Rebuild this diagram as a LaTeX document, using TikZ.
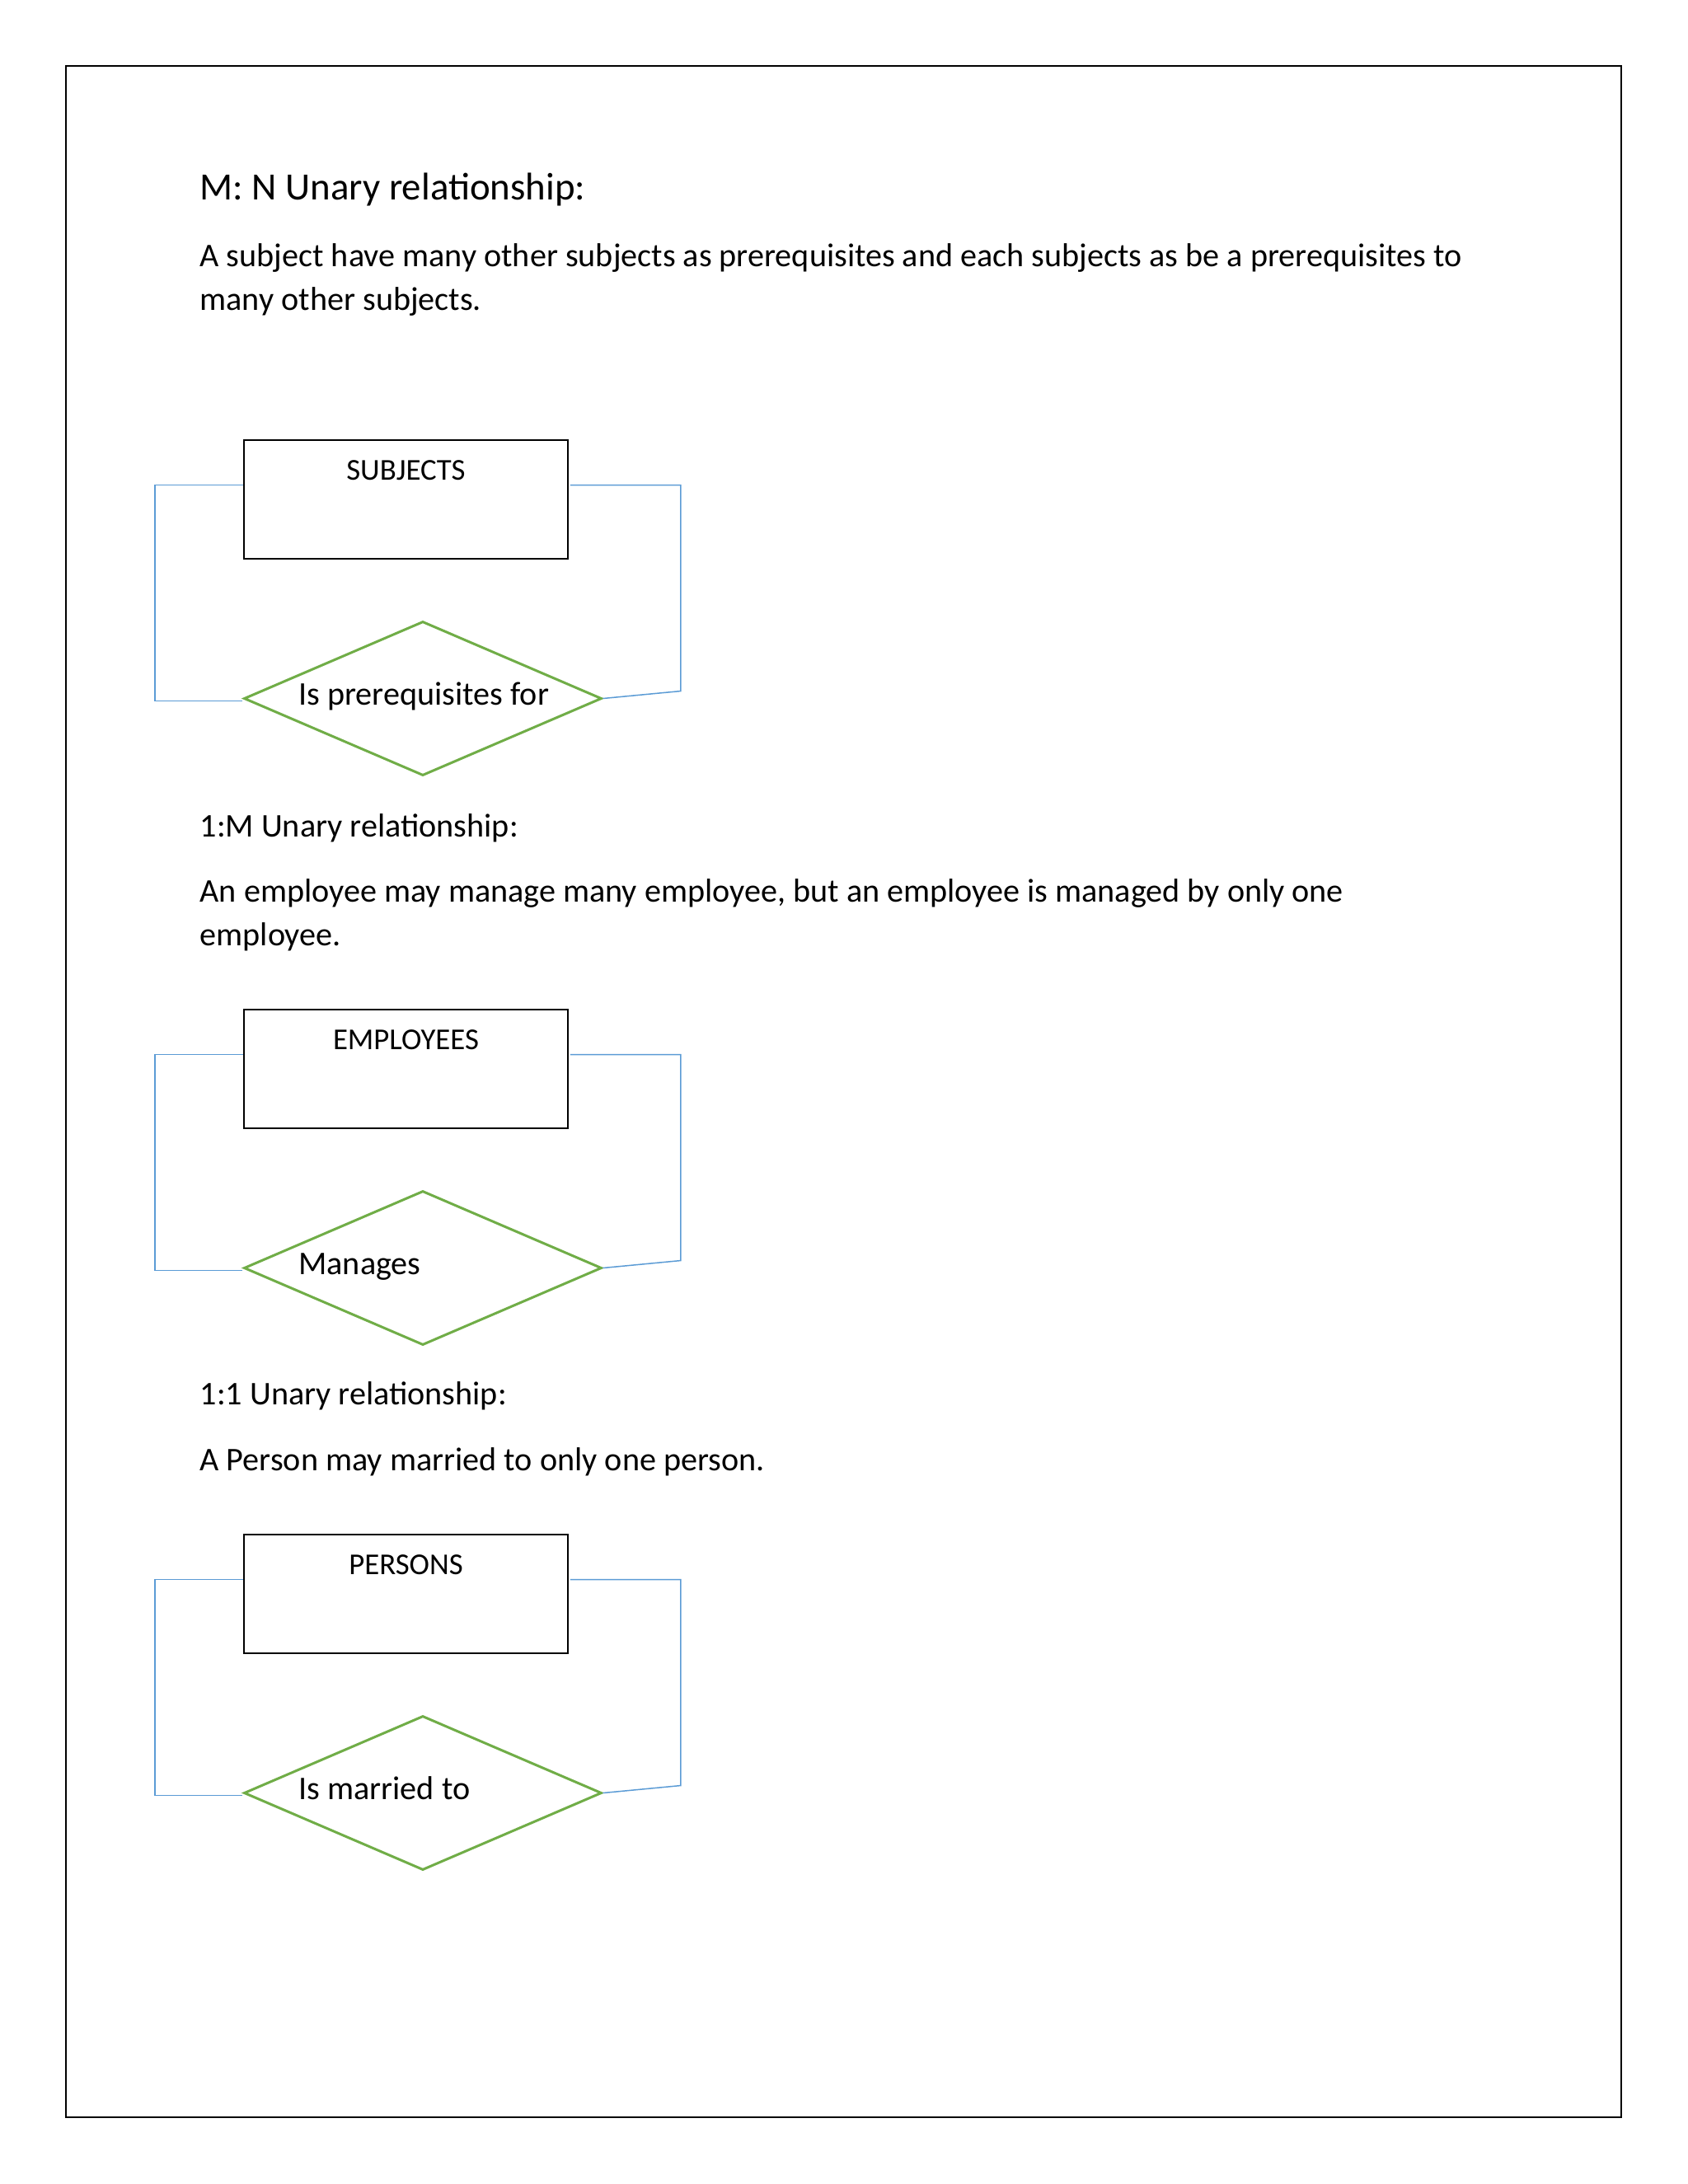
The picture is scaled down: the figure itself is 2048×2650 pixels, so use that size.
\documentclass[tikz,border=0pt]{standalone}
\usepackage{fontspec}
\setmainfont{Carlito}
\usepackage{tikz}
\usetikzlibrary{calc,shapes.geometric}
\definecolor{relgreen}{RGB}{112,173,71}
\definecolor{linkblue}{RGB}{91,155,213}
\def\rellabel#1{\makebox[90pt][l]{#1}}
\tikzset{
  entity/.style={draw=black, line width=0.5pt, inner sep=0pt, minimum width=117.4pt, minimum height=43pt, text height=14.6pt, text depth=28.4pt, font=\fontsize{11}{13}\selectfont},
  relation/.style={diamond, draw=relgreen, line width=0.9pt, inner sep=0pt, aspect=2.32, minimum width=129.7pt, minimum height=55.9pt, text height=8pt, text depth=3pt, font=\fontsize{12}{14}\selectfont},
  link/.style={draw=linkblue, line width=0.45pt},
  heading/.style={anchor=base west, inner sep=0pt, font=\fontsize{14}{17}\selectfont},
  para/.style={anchor=base west, inner sep=0pt, align=left, font=\fontsize{12}{15.6}\selectfont},
}

\begin{document}
\begin{tikzpicture}[x=0.29883pt, y=-0.29883pt]
	%%%%% PAGE %%%%%
	\useasboundingbox (0,0) rectangle (2048,2650);
	\draw[line width=0.6pt] (80,80) rectangle (1967,2569);
	
	%%%%% M:N %%%%%
	\node[heading] (mnhead) at (242,242) {M: N Unary relationship:};
	% base of a two-line text is its last line
	\node[para] (mntext) at (242,376) {A subject have many other subjects as prerequisites and each subjects as be a prerequisites to\\many other subjects.};
	
	\node[entity] (subj) at (492.5,606) {SUBJECTS};
	\node[relation] (isprereq) at (513,847.5) {\rellabel{Is prerequisites for}};
	\coordinate (subjl) at ($(subj.north west)!.38!(subj.south west)$);
	\coordinate (subjr) at ($(subj.north east)!.38!(subj.south east)+(2,0)$);
	\draw[link] (subjl) -- ++(-107,0) |- ($(isprereq.west)+(0,3)$);
	\draw[link] (subjr) -- ++(134,0) -- ++(0,250) -- (isprereq.east);
	
	%%%%% 1:M %%%%%
	\node[para] (omhead) at (242,1015) {1:M Unary relationship:};
	\node[para] (omtext) at (242,1147) {An employee may manage many employee, but an employee is managed by only one\\employee.};
	
	\node[entity] (empl) at (492.5,1297) {EMPLOYEES};
	\node[relation] (manages) at (513,1538.5) {\rellabel{Manages}};
	\coordinate (empll) at ($(empl.north west)!.38!(empl.south west)$);
	\coordinate (emplr) at ($(empl.north east)!.38!(empl.south east)+(2,0)$);
	\draw[link] (empll) -- ++(-107,0) |- ($(manages.west)+(0,3)$);
	\draw[link] (emplr) -- ++(134,0) -- ++(0,250) -- (manages.east);
	
	%%%%% 1:1 %%%%%
	\node[para] (oohead) at (242,1704) {1:1 Unary relationship:};
	\node[para] (ootext) at (242,1784) {A Person may married to only one person.};
	
	\node[entity] (pers) at (492.5,1934) {PERSONS};
	\node[relation] (married) at (513,2175.5) {\rellabel{Is married to}};
	\coordinate (persl) at ($(pers.north west)!.38!(pers.south west)$);
	\coordinate (persr) at ($(pers.north east)!.38!(pers.south east)+(2,0)$);
	\draw[link] (persl) -- ++(-107,0) |- ($(married.west)+(0,3)$);
	\draw[link] (persr) -- ++(134,0) -- ++(0,250) -- (married.east);
\end{tikzpicture}
\end{document}
